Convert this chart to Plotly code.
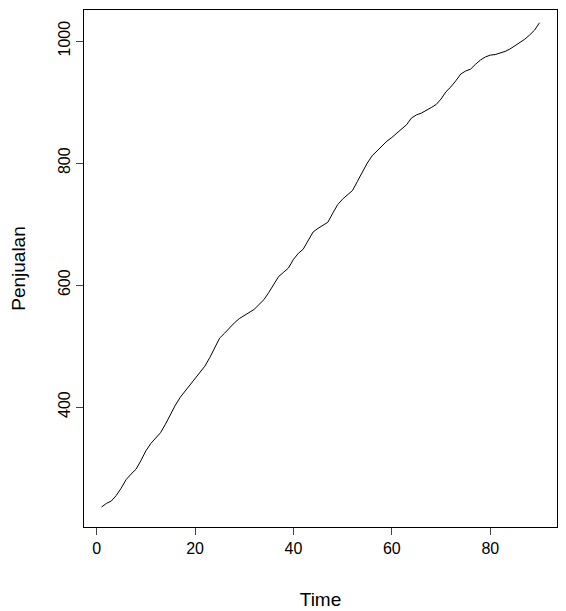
import plotly.graph_objects as go

time = list(range(1, 91))
penjualan = [236, 242, 246, 255, 267, 281, 290, 298, 312, 328,
             340, 349, 358, 372, 388, 403, 416, 426, 436, 447,
             457, 467, 481, 497, 513, 521, 530, 538, 545, 550,
             555, 560, 568, 576, 588, 601, 614, 621, 628, 642,
             652, 659, 672, 687, 693, 698, 703, 718, 732, 741,
             748, 755, 770, 785, 800, 812, 820, 827, 836, 842,
             849, 856, 863, 874, 879, 882, 886, 891, 896, 905,
             917, 925, 935, 946, 951, 954, 962, 969, 974, 977,
             978, 980, 983, 987, 992, 998, 1003, 1010, 1018, 1030]
x_ticks = [0, 20, 40, 60, 80]
y_ticks = [400, 600, 800, 1000]

fig = go.Figure(go.Scatter(x=time, y=penjualan, mode="lines",
                           line=dict(color="black", width=1)))
xr = (1 - 0.04 * 89, 90 + 0.04 * 89)
font = dict(family="Liberation Sans, Arial", size=16, color="black")
fig.update_layout(
    width=558, height=603, plot_bgcolor="white", paper_bgcolor="white",
    margin=dict(l=76, r=9, t=2, b=84, pad=0), showlegend=False, font=font,
    xaxis=dict(range=list(xr), tickvals=x_ticks, ticks="outside", ticklen=7,
               showgrid=False, zeroline=False, showline=True, linecolor="black",
               linewidth=1, mirror=True, title=dict(text="Time", standoff=36)),
    yaxis=dict(range=[203.3, 1051], tickvals=y_ticks, ticks="outside",
               ticklen=7, tickangle=-90, showgrid=False, zeroline=False,
               showline=True, linecolor="black", linewidth=1, mirror=True,
               title=dict(text="Penjualan", standoff=30)),
)
fig.write_html("out.html")
